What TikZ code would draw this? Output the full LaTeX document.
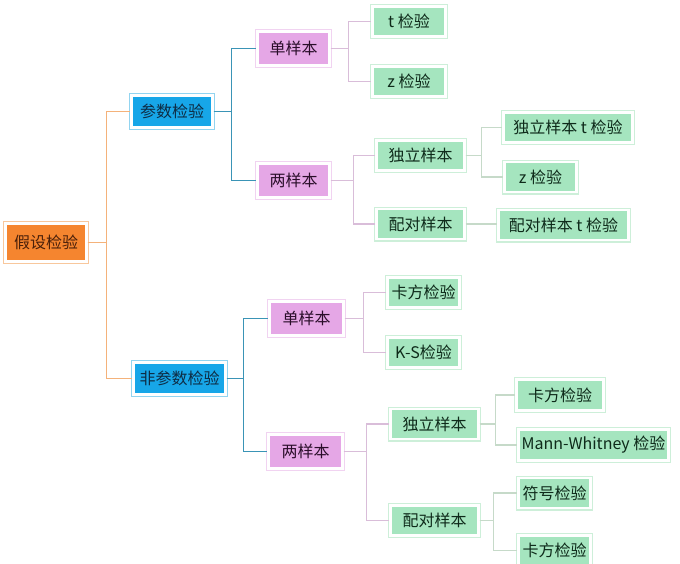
\documentclass[tikz,border=0pt]{standalone}
\usepackage{fontspec}
\setmainfont{Noto Sans CJK SC}
\definecolor{orfill}{HTML}{F5852F}
\definecolor{orline}{HTML}{F8C79C}
\definecolor{ortext}{HTML}{4A200A}
\definecolor{blfill}{HTML}{17A6E8}
\definecolor{blline}{HTML}{92D4F0}
\definecolor{bltext}{HTML}{0E2C44}
\definecolor{pkfill}{HTML}{E5A7E6}
\definecolor{pkline}{HTML}{F1D3F1}
\definecolor{pktext}{HTML}{2A0E2A}
\definecolor{gnfill}{HTML}{A5E5BF}
\definecolor{gnline}{HTML}{CDEFD9}
\definecolor{gntext}{HTML}{0E2A1A}
\definecolor{cor}{HTML}{F4B27A}
\definecolor{cbl}{HTML}{3A94B6}
\definecolor{cpk}{HTML}{D9BDD9}
\definecolor{cgn}{HTML}{C6DAC9}
\begin{document}
\begin{tikzpicture}[x=1pt,y=-1pt,
  font=\fontsize{16}{19}\selectfont,
  box/.style n args={3}{inner sep=0pt, fill=#1, draw=white, line width=2.4pt, text=#3,
    preaction={draw=#2, line width=5pt, rounded corners=3pt}},
  rootbox/.style={box={orfill}{orline}{ortext}},
  bluebox/.style={box={blfill}{blline}{bltext}},
  pinkbox/.style={box={pkfill}{pkline}{pktext}},
  greenbox/.style={box={gnfill}{gnline}{gntext}},
  sz/.style 2 args={minimum width=#1pt, minimum height=#2pt},
  conn/.style={draw=#1, line width=1.4pt}
]
\useasboundingbox (0,0) rectangle (680,563);
% level 0
\node[rootbox, sz={81}{38}] (root) at (46,242.5) {假设检验};
% level 1
\node[bluebox, sz={81}{32}] (par) at (172,111.5) {参数检验};
\node[bluebox, sz={92}{32}] (npar) at (179.5,378.5) {非参数检验};
% level 2
\node[pinkbox, sz={72}{34}] (ps1) at (293.5,48.5) {单样本};
\node[pinkbox, sz={72}{34}] (ps2) at (293.5,180.5) {两样本};
\node[pinkbox, sz={74}{34}] (ns1) at (306.5,318.5) {单样本};
\node[pinkbox, sz={74}{34}] (ns2) at (305.5,451.5) {两样本};
% level 3 (param)
\node[greenbox, sz={73}{30}] (pt) at (409,21.5) {t 检验};
\node[greenbox, sz={73}{30}] (pz) at (409,81.5) {z 检验};
\node[greenbox, sz={88}{30}] (pind) at (420.5,155.5) {独立样本};
\node[greenbox, sz={88}{30}] (ppair) at (420.5,224) {配对样本};
\node[greenbox, sz={129}{30}] (pindt) at (568,127.5) {独立样本 t 检验};
\node[greenbox, sz={72}{30}] (pindz) at (540.5,177) {z 检验};
\node[greenbox, sz={130}{30}] (ppairt) at (563.5,225) {配对样本 t 检验};
% level 3 (nonparam)
\node[greenbox, sz={72}{30}] (nchi) at (423.5,292.5) {卡方检验};
\node[greenbox, sz={72}{30}] (nks) at (423.5,352.5) {K-S检验};
\node[greenbox, sz={88}{30}] (nind) at (434.5,424) {独立样本};
\node[greenbox, sz={88}{30}] (npair) at (434.5,520.5) {配对样本};
\node[greenbox, sz={87}{31}] (nindchi) at (560,395) {卡方检验};
\node[greenbox, sz={150}{31}] (nmw) at (593.5,445) {Mann-Whitney 检验};
\node[greenbox, sz={72}{30}] (nsign) at (554.5,493) {符号检验};
\node[greenbox, sz={72}{30}] (npairchi) at (554.5,550.5) {卡方检验};
% connectors
\draw[conn=cor] (root.east) -- ++(19,0) |- (par.west);
\draw[conn=cor] (root.east) -- ++(19,0) |- (npar.west);
\draw[conn=cbl] (par.east) -- ++(18,0) |- (ps1.west);
\draw[conn=cbl] (par.east) -- ++(18,0) |- (ps2.west);
\draw[conn=cbl] (npar.east) -- ++(17,0) |- (ns1.west);
\draw[conn=cbl] (npar.east) -- ++(17,0) |- (ns2.west);
\draw[conn=cpk] (ps1.east) -- ++(18,0) |- (pt.west);
\draw[conn=cpk] (ps1.east) -- ++(18,0) |- (pz.west);
\draw[conn=cpk] (ps2.east) -- ++(23,0) |- (pind.west);
\draw[conn=cpk] (ps2.east) -- ++(23,0) |- (ppair.west);
\draw[conn=cpk] (ns1.east) -- ++(19,0) |- (nchi.west);
\draw[conn=cpk] (ns1.east) -- ++(19,0) |- (nks.west);
\draw[conn=cpk] (ns2.east) -- ++(23,0) |- (nind.west);
\draw[conn=cpk] (ns2.east) -- ++(23,0) |- (npair.west);
\draw[conn=cgn] (pind.east) -- ++(16,0) |- (pindt.west);
\draw[conn=cgn] (pind.east) -- ++(16,0) |- (pindz.west);
\draw[conn=cgn] (ppair.east) -- (ppair.east -| ppairt.west);
\draw[conn=cgn] (nind.east) -- ++(16,0) |- (nindchi.west);
\draw[conn=cgn] (nind.east) -- ++(16,0) |- (nmw.west);
\draw[conn=cgn] (npair.east) -- ++(14,0) |- (nsign.west);
\draw[conn=cgn] (npair.east) -- ++(14,0) |- (npairchi.west);
\end{tikzpicture}
\end{document}
